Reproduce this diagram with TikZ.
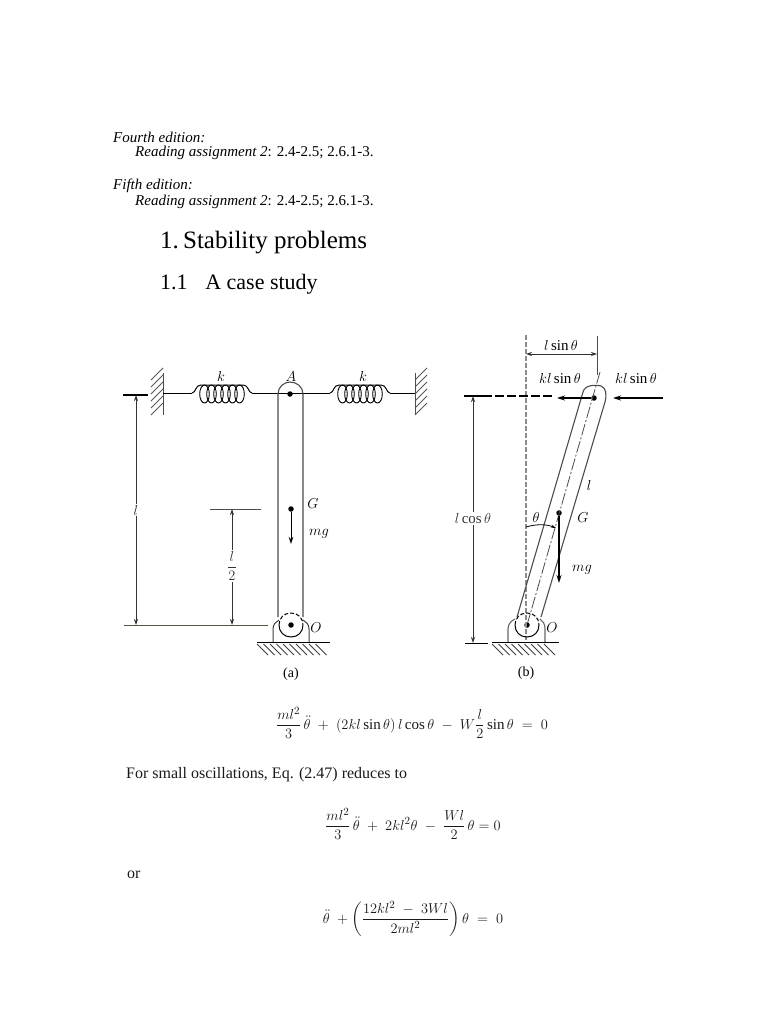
\documentclass[tikz,border=0pt]{standalone}
\usepackage{amsmath,fontspec}
\setmainfont{Liberation Serif}
\usetikzlibrary{calc, arrows.meta}
\tikzset{
    pin/.style={circle,fill=black,inner sep=0pt,minimum size=5.5pt},
    lbl/.style={inner sep=0pt,font=\fontsize{14}{16}\selectfont},
    body/.style={anchor=west,inner sep=0pt,font=\fontsize{15}{17}\selectfont},
    eqn/.style={inner sep=0pt,font=\fontsize{15}{17}\selectfont,text=black!90},
    dim/.style={{Stealth[length=6pt,width=4pt]}-{Stealth[length=6pt,width=4pt]},line width=0.8pt,black!80},
    force/.style={-{Stealth[length=8pt,width=5pt]},line width=1.3pt},
    rod/.style={line width=1.1pt,black!70}
}
% hatched ground under a support
\newcommand{\groundline}[2]{
    \draw[line width=1pt] (#1,642.5)--(#2,642.5);
    \pgfmathsetmacro{\hatchend}{#2-12}
    \pgfmathsetmacro{\hatchnext}{#1+6.5}
    \foreach \i in {#1,\hatchnext,...,\hatchend}{
        \draw[black!75,line width=0.8pt] (\i,644)--(\i+11,655);
    }
}
% coil between two wire ends, around y=394
\newcommand{\coilspring}[1]{
    \draw[line width=1pt] (#1,393) .. controls (#1+4,393) and (#1+3,385) .. (#1+9,385)
        -- (#1+51,385) .. controls (#1+57,385) and (#1+56,393) .. (#1+60,393);
    \foreach \i in {0,...,5}{
        \draw[line width=0.9pt] (#1+12.5+7*\i,394) ellipse (4.8pt and 9pt);
    }
}
% pivot circle: solid below, dashed above
\newcommand{\pivotring}[2]{
    \draw[line width=1pt] (#1-12,#2) .. controls (#1-12,#2+7) and (#1-7,#2+12) .. (#1,#2+12)
        .. controls (#1+7,#2+12) and (#1+12,#2+7) .. (#1+12,#2);
    \draw[line width=1pt,dash pattern=on 4pt off 2pt] (#1-12,#2) .. controls (#1-12,#2-7) and (#1-7,#2-12) .. (#1,#2-12)
        .. controls (#1+7,#2-12) and (#1+12,#2-7) .. (#1+12,#2);
}
\begin{document}
\begin{tikzpicture}[x=1pt,y=-1pt]
    \useasboundingbox[fill=white] (0,0) rectangle (768,1024);
    % heading text
    \node[body] (fourth) at (113,137) {\itshape Fourth edition:};
    \node[body] (fourthread) at (135,153) {\textit{Reading assignment 2}: 2.4-2.5; 2.6.1-3.};
    \node[body] (fifth) at (113,186) {\itshape Fifth edition:};
    \node[body] (fifthread) at (135,202) {\textit{Reading assignment 2}: 2.4-2.5; 2.6.1-3.};
    \node[body,font=\fontsize{25}{29}\selectfont] (title) at (160,243) {1.\,Stability problems};
    \node[body,font=\fontsize{22}{26}\selectfont] (sect) at (160,284) {1.1\hspace{0.8em}A case study};

    % figure (a)
    \foreach \x/\d in {163/-1,415/1}{
        \draw[line width=1pt,black!70] (\x,373)--(\x,415);
        \foreach \j in {0,1,2,3,4,5}{
            \pgfmathsetmacro{\xa}{\d>0 ? \x : \x-12}
            \draw[black!65,line width=0.8pt] (\xa,380+7*\j)--(\xa+12,368+7*\j);
        }
    }
    \coilspring{192}
    \coilspring{330}
    \coordinate (wallL) at (163,393);
    \coordinate (wallR) at (415,393);
    \node[pin] (A) at (290,394) {};
    \node[pin] (O) at (291,625) {};
    \node[pin] (G) at (291,509) {};
    \draw[line width=1pt] (wallL)--(192,393);
    \draw[line width=1pt] (252,393)--(330,393);
    \draw[line width=1pt] (390,393)--(wallR);
    \draw[rod] (278,617)--(278,394) .. controls (278,387) and (284,382) .. (290,382)
        .. controls (297,382) and (303,387) .. (303,394)--(303,617);
    \pivotring{291}{625}
    \draw[line width=1pt,black!75] (273,643)--(273,629) .. controls (273,624) and (276,622) .. (279,620);
    \draw[line width=1pt,black!75] (309,643)--(309,629) .. controls (309,624) and (306,622) .. (303,620);
    \groundline{257}{330}
    \coordinate (topL) at (123,395);
    \coordinate (botL) at (124,625);
    \coordinate (topDim) at (136,395);
    \coordinate (botDim) at (136,625);
    \coordinate (halfDim) at (232,509);
    \coordinate (halfBot) at (232,625);
    \draw[line width=1.1pt] (topL)--(148,395);
    \draw[line width=1pt,black!75!yellow] (botL)--(268,625);
    \draw[line width=0.9pt,black!70] (210,509)--(261,509);
    \draw[dim] (topDim)--(botDim) node[pos=0.5,fill=white,inner sep=1pt,font=\fontsize{14}{16}\selectfont] (lDim) {$l$};
    \draw[dim] (halfDim)--(halfBot) node[pos=0.5,yshift=1pt,fill=white,inner sep=1pt,font=\fontsize{14}{16}\selectfont] (lHalf) {$\dfrac{l}{2}$};
    \coordinate (mgA) at (291,544);
    \draw[-{Stealth[length=7pt,width=4.5pt]},line width=1pt] (G)--(mgA);
    \node[lbl] (kL) at (221,376) {$k$};
    \node[lbl] (kR) at (363,376) {$k$};
    \node[lbl] (Alab) at (291,377) {$A$};
    \node[lbl] (Glab) at (313,504) {$G$};
    \node[lbl] (mglab) at (319,534) {$mg$};
    \node[lbl] (Olab) at (316,628) {$O$};
    \node[lbl] (capa) at (291,674) {(a)};

    % figure (b)
    \node[pin] (Ab) at (594,398) {};
    \node[pin] (Ob) at (527,625) {};
    \node[pin] (Gb) at (559,513) {};
    \coordinate (vertTop) at (526,335);
    \coordinate (vertBot) at (526,640);
    \draw[black!45,line width=1.4pt,dash pattern=on 5pt off 2pt] (vertTop)--(vertBot);
    \draw[black!70,line width=0.8pt,dash pattern=on 12pt off 2pt on 2pt off 2pt] (600,372)--(Ob);
    \draw[rod] (517,617)--(583,392) .. controls (585,384) and (597,385) .. (601,386)
        .. controls (606,388) and (607,394) .. (605,402)--(541,617);
    \pivotring{527}{625}
    \draw[line width=1.1pt,black!60] (508,643)--(508,629) .. controls (508,624) and (511,621) .. (515,619);
    \draw[line width=1.1pt,black!60] (545,643)--(545,629) .. controls (545,624) and (543,621) .. (540,619);
    \groundline{492}{559}
    \coordinate (sinR) at (597,354);
    \coordinate (sinL) at (526,354);
    \draw[line width=0.9pt,black!70] (597,336)--(597,375);
    \draw[dim] (sinL)--(sinR);
    \coordinate (dashL) at (464,396);
    \draw[line width=1.2pt] (dashL)--(492,396);
    \draw[line width=1.2pt,dash pattern=on 9pt off 3pt] (495,396)--(552,396);
    \coordinate (forceR) at (663,398);
    \coordinate (forceRend) at (613,398);
    \coordinate (forceLend) at (557,398);
    \draw[force] (Ab)--(forceLend);
    \draw[force] (forceR)--(forceRend);
    \coordinate (mgB) at (559,583);
    \draw[-{Stealth[length=8pt,width=5pt]},line width=1.5pt] (Gb)--(mgB);
    \coordinate (dimTop) at (473,396);
    \coordinate (dimBot) at (473,643);
    \draw[line width=1pt] (465,643)--(488,643);
    \draw[dim] (dimTop)--(dimBot) node[pos=0.5,fill=white,inner sep=1pt,yshift=1pt,font=\fontsize{15}{17}\selectfont] (lcos) {$l\cos\theta$};
    \coordinate (thA) at (526,527);
    \coordinate (thB) at (556,528);
    \draw[-{Stealth[length=5pt,width=3pt]},line width=0.8pt] (thA) .. controls (536,524) and (546,524) .. (thB);
    \node[lbl,font=\fontsize{15}{17}\selectfont,fill=white,inner sep=0.5pt] (lsin) at (561,346) {$l\sin\theta$};
    \node[lbl,font=\fontsize{15}{17}\selectfont] (klL) at (560,379) {$kl\sin\theta$};
    \node[lbl,font=\fontsize{15}{17}\selectfont] (klR) at (636,379) {$kl\sin\theta$};
    \node[lbl] (lb) at (589,485) {$l$};
    \node[lbl] (Gblab) at (583,518) {$G$};
    \node[lbl] (mgblab) at (582,570) {$mg$};
    \node[lbl] (thlab) at (536,517) {$\theta$};
    \node[lbl] (Oblab) at (552,628) {$O$};
    \node[lbl] (capb) at (526,673) {(b)};

    % equations
    \node[eqn] (eqone) at (412,723) {$\dfrac{ml^2}{3}\,\ddot\theta\;+\;(2kl\sin\theta)\,l\cos\theta\;-\;W\dfrac{l}{2}\sin\theta\;=\;0$};
    \node[body,text=black!90,font=\fontsize{16}{18}\selectfont] (small) at (126,775) {For small oscillations, Eq. (2.47) reduces to};
    \node[eqn] (eqtwo) at (413,824) {$\dfrac{ml^2}{3}\,\ddot\theta\;+\;2kl^2\theta\;-\;\dfrac{Wl}{2}\,\theta=0$};
    \node[body,text=black!90,font=\fontsize{16}{18}\selectfont] (orlab) at (127,875) {or};
    \node[eqn] (eqthree) at (413,919) {$\ddot\theta\;+\left(\dfrac{12kl^2\;-\;3Wl}{2ml^2}\right)\theta\;=\;0$};
\end{tikzpicture}
\end{document}
